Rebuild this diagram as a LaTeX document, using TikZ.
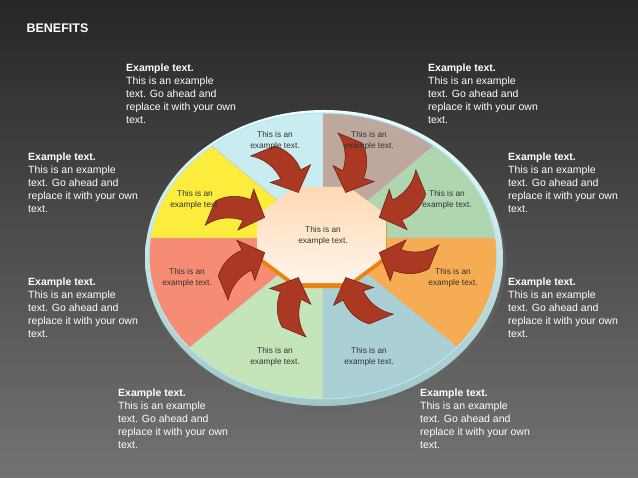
\documentclass[tikz,border=0pt]{standalone}
\usepackage{fontspec}
\setmainfont{Liberation Sans}
\definecolor{arrc}{RGB}{170,56,34}
\definecolor{arrd}{RGB}{105,28,15}
\definecolor{cA}{RGB}{200,236,240}
\definecolor{cB}{RGB}{190,168,158}
\definecolor{cC}{RGB}{176,214,176}
\definecolor{cD}{RGB}{246,172,82}
\definecolor{cE}{RGB}{170,208,214}
\definecolor{cF}{RGB}{196,228,186}
\definecolor{cG}{RGB}{246,140,116}
\definecolor{cH}{RGB}{252,236,60}
\begin{document}
\begin{tikzpicture}[x=1pt,y=1pt,
  blk/.style={anchor=north west,inner sep=0pt,align=left,text=white,font=\fontsize{10.5}{13}\selectfont},
  lbl/.style={inner sep=0pt,align=center,text=black!80,font=\fontsize{8.3}{11}\selectfont},
  arr/.style={fill=arrc,draw=arrd,line width=0.5pt}]
\shade[top color=black!85,bottom color=black!55] (0,0) rectangle (638,478);
\useasboundingbox (0,0) rectangle (638,478);
\node[anchor=west,text=white,font=\bfseries\fontsize{12.5}{15}\selectfont] (title) at (23,450) {BENEFITS};
% ring
\fill[black!60,opacity=0.5] (326,216) ellipse [x radius=180,y radius=149];
\shade[top color=cyan!8!white,bottom color=cyan!25!gray!60] (324,220) ellipse [x radius=179,y radius=148];
\coordinate (O) at (323,240);
\coordinate (U) at (323,640); \coordinate (D) at (323,-160);
\coordinate (L) at (-77,240); \coordinate (R) at (723,240);
\coordinate (UR) at (665,525); \coordinate (UL) at (-22,525);
\coordinate (LL) at (-76,-87); \coordinate (LR) at (725,-87);
\begin{scope}
\clip (323,222) ellipse [x radius=174,y radius=143];
\fill[cA] (O) -- (UL) -- (U) -- cycle;
\fill[cB] (O) -- (U) -- (UR) -- cycle;
\fill[cC] (O) -- (UR) -- (R) -- cycle;
\fill[cD] (O) -- (R) -- (LR) -- cycle;
\fill[cE] (O) -- (LR) -- (D) -- cycle;
\fill[cF] (O) -- (D) -- (LL) -- cycle;
\fill[cG] (O) -- (LL) -- (L) -- cycle;
\fill[cH] (O) -- (L) -- (UL) -- cycle;
\draw[black!25,line width=0.4pt] (O) -- (U) (O) -- (D) (O) -- (L) (O) -- (R)
  (O) -- (UR) (O) -- (UL) (O) -- (LL) (O) -- (LR);
\end{scope}
\draw[white!70!cyan,line width=1pt] (323,222) ellipse [x radius=174,y radius=143];
% octagon
\fill[orange!70!brown] (322+70*cos 22.5,238+52*sin 22.5) \foreach \a in {67.5,112.5,...,337.5}{ -- (322+70*cos \a,238+52*sin \a)} -- cycle;
\shade[top color=orange!30!white,bottom color=orange!8!white] (322+70*cos 22.5,243+52*sin 22.5) \foreach \a in {67.5,112.5,...,337.5}{ -- (322+70*cos \a,243+52*sin \a)} -- cycle;
% arrows
\foreach \a in {22.5,67.5,...,337.5}{
  \begin{scope}[shift={(322+62*cos \a,243+46*sin \a)},rotate=\a]
  \filldraw[arr] (0,0) -- (20,22) -- (19,11) .. controls (32,12) and (44,18) .. (52,30)
     -- (52,4) .. controls (44,-6) and (32,-11) .. (20,-11) -- (21,-22) -- cycle;
  \end{scope}}
% sector labels
\node[lbl] (s1) at (275,337) {This is an\\example text.};
\node[lbl] (s2) at (369,337) {This is an\\example text.};
\node[lbl] (s3) at (447,278) {This is an\\example text.};
\node[lbl] (s4) at (453,200) {This is an\\example text.};
\node[lbl] (s5) at (369,121) {This is an\\example text.};
\node[lbl] (s6) at (275,121) {This is an\\example text.};
\node[lbl] (s7) at (187,200) {This is an\\example text.};
\node[lbl] (s8) at (195,278) {This is an\\example text.};
\node[lbl] (c) at (323,242) {This is an\\example text.};
% text blocks
\def\bt{\textbf{Example text.}\\This is an example\\text. Go ahead and\\replace it with your own\\text.}
\node[blk] (b1) at (126,414) {\bt};
\node[blk] (b2) at (428,414) {\bt};
\node[blk] (b3) at (28,325) {\bt};
\node[blk] (b4) at (508,325) {\bt};
\node[blk] (b5) at (28,200) {\bt};
\node[blk] (b6) at (508,200) {\bt};
\node[blk] (b7) at (118,89) {\bt};
\node[blk] (b8) at (420,89) {\bt};
\end{tikzpicture}
\end{document}
